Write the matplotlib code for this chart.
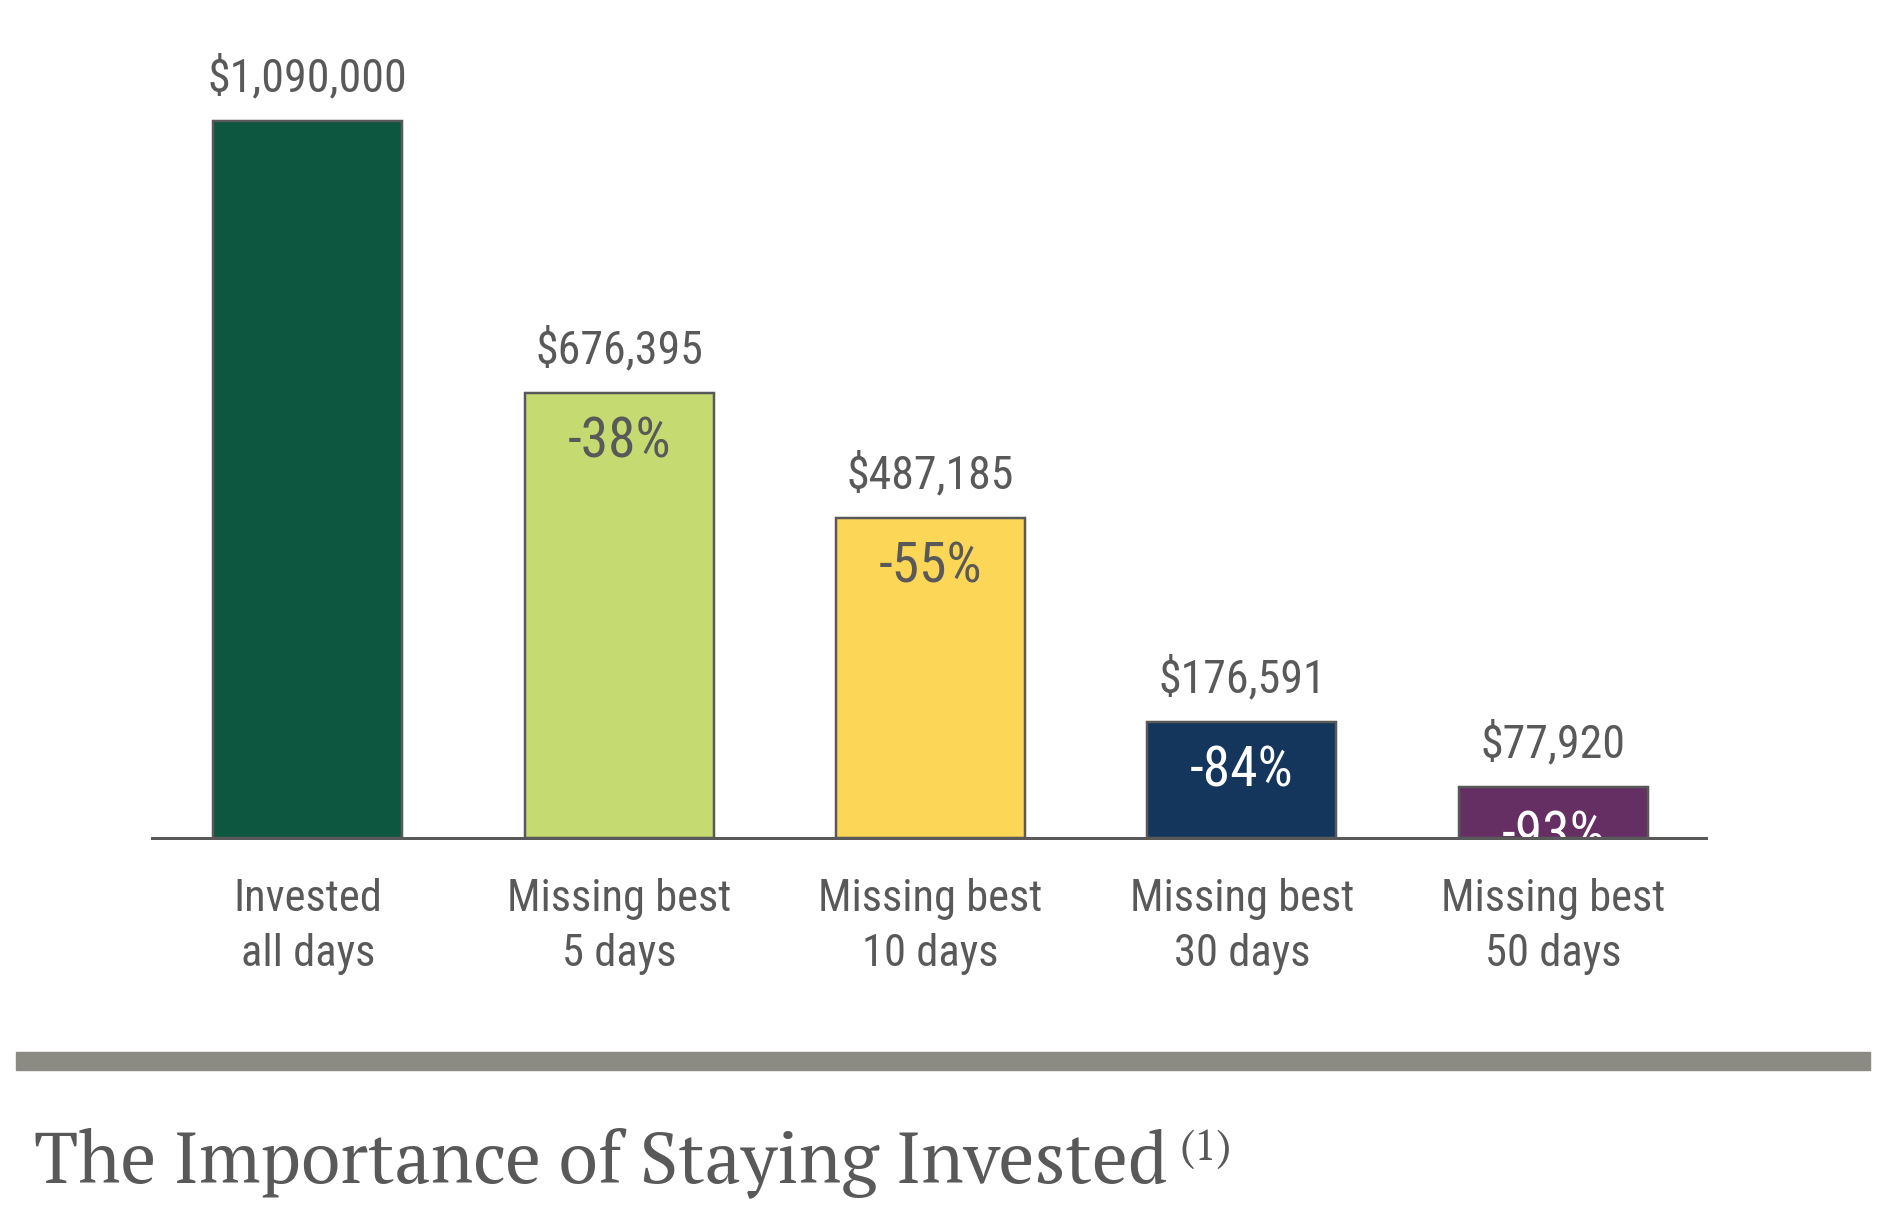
import matplotlib
matplotlib.use("Agg")
from matplotlib import pyplot as plt
from matplotlib import font_manager

categories = ["Invested\nall days", "Missing best\n5 days", "Missing best\n10 days",
              "Missing best\n30 days", "Missing best\n50 days"]
values = [1090000, 676395, 487185, 176591, 77920]
value_labels = ["$1,090,000", "$676,395", "$487,185", "$176,591", "$77,920"]
change_labels = ["", "-38%", "-55%", "-84%", "-93%"]
bar_colors = ["#0d5640", "#c5da71", "#fcd757", "#14365c", "#652f63"]
change_colors = ["white", "#595959", "#595959", "white", "white"]

GRAY = "#595959"
names = {f.name for f in font_manager.fontManager.ttflist}


def pick(*fams):
    for f in fams:
        if f in names:
            return f
    return "DejaVu Sans"


narrow = pick("Roboto Condensed", "Archivo Narrow", "PT Sans Narrow", "Liberation Sans Narrow", "Liberation Sans")
serif = pick("PT Serif", "Merriweather", "Source Serif 4", "Liberation Serif")

W, H, DPI = 1880, 1226, 100
fig = plt.figure(figsize=(W / DPI, H / DPI), dpi=DPI)
px = 72 / DPI  # points per pixel

ax = fig.add_axes([152 / W, (H - 838) / H, (1706 - 152) / W, (838 - 40) / H])
x = list(range(len(values)))
ax.bar(x, values, width=0.607, color=bar_colors, edgecolor=GRAY, linewidth=2.5 * px, zorder=2)
ax.set_xlim(-0.5, 4.49)
ax.set_ylim(0, 1090000 * (838 - 40) / 717)

for i, v in enumerate(values):
    ax.annotate(value_labels[i], (i, v), xytext=(0, 43 * px), textcoords="offset points",
                ha="center", va="center", fontsize=33, color=GRAY, family=narrow)
    if change_labels[i]:
        ax.annotate(change_labels[i], (i, v), xytext=(0, -49 * px), textcoords="offset points",
                    ha="center", va="center", fontsize=40, color=change_colors[i],
                    family=narrow, annotation_clip=False, clip_on=True, zorder=3)

for s in ["top", "right", "left"]:
    ax.spines[s].set_visible(False)
ax.spines["bottom"].set_color(GRAY)
ax.spines["bottom"].set_linewidth(3 * px)
ax.spines["bottom"].set_zorder(4)
ax.set_yticks([])
ax.set_xticks(x)
ax.set_xticklabels(categories, fontsize=32, color=GRAY, family=narrow, linespacing=1.38)
ax.tick_params(axis="x", length=0, pad=40 * px)

# divider band and title
fig.patches.append(plt.Rectangle((16 / W, (H - 1070) / H), (1870 - 16) / W, 18 / H,
                                 transform=fig.transFigure, color="#8b8b84"))
title = fig.text(34 / W, (H - 1182) / H, "The Importance of Staying Invested", fontsize=51.5,
                 color=GRAY, family=serif, va="baseline", ha="left")
ax.annotate("(1)", xy=(1, 0), xycoords=title, xytext=(12 * px, 38 * px), textcoords="offset points",
            fontsize=31, color=GRAY, family=serif, va="baseline", ha="left", annotation_clip=False)

fig.savefig("out.png", dpi=DPI)
plt.close(fig)
